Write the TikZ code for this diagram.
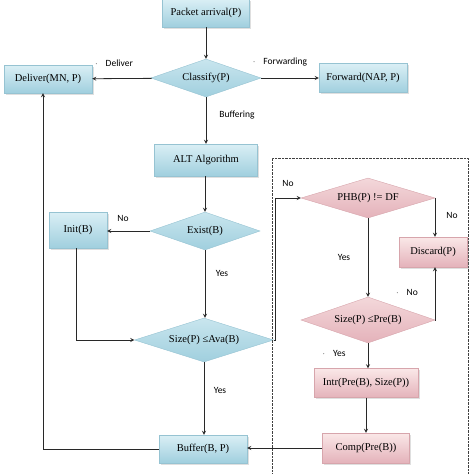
\documentclass[tikz,border=0pt]{standalone}
\usepackage{fontspec}
\setmainfont{Liberation Serif}
\newfontfamily\lblfont{Carlito}
\usepackage{tikz}
\usetikzlibrary{shapes.geometric, shadows, calc}
\usepackage{xcolor}
\definecolor{boxtop}{RGB}{218,239,245}
\definecolor{boxbot}{RGB}{160,207,222}
\definecolor{boxline}{RGB}{150,195,210}
\definecolor{pinktop}{RGB}{250,232,232}
\definecolor{pinkbot}{RGB}{228,178,186}
\definecolor{pinkline}{RGB}{215,165,172}
\definecolor{flowline}{RGB}{40,40,40}

\begin{document}
\begin{tikzpicture}[x=1pt,y=-1pt,>=stealth]
        \tikzstyle{bluebox}=[rectangle, draw=boxline, top color=boxtop, bottom color=boxbot, inner sep=0pt, font=\fontsize{10.5}{12}\selectfont, drop shadow={shadow xshift=1.5pt, shadow yshift=-1.5pt, opacity=.25}]
        \tikzstyle{bluedia}=[diamond, aspect=3, draw=boxline, top color=boxtop!70!boxbot, bottom color=boxbot, inner sep=0pt, font=\fontsize{10.5}{12}\selectfont]
        \tikzstyle{pinkbox}=[rectangle, draw=pinkline, top color=pinktop, bottom color=pinkbot, inner sep=0pt, font=\fontsize{10.5}{12}\selectfont, drop shadow={shadow xshift=1.5pt, shadow yshift=-1.5pt, opacity=.25}]
        \tikzstyle{pinkdia}=[diamond, aspect=3, draw=pinkline, top color=pinktop!70!pinkbot, bottom color=pinkbot, inner sep=0pt, font=\fontsize{10.5}{12}\selectfont]
        \tikzstyle{lbl}=[font=\lblfont\fontsize{9.5}{11}\selectfont, inner sep=0pt]
        \tikzstyle{flow}=[->, draw=flowline, line width=.8pt]

        \useasboundingbox (0,0) rectangle (474,474);

        % Main column
        \node[bluebox, minimum width=87pt, minimum height=28pt] (arrival) at (206,13) {Packet arrival(P)};
        \node[bluedia, minimum width=110pt, minimum height=38pt] (classify) at (206,78) {Classify(P)};
        \node[bluebox, minimum width=88pt, minimum height=28pt] (deliver) at (48,79) {Deliver(MN, P)};
        \node[bluebox, minimum width=88pt, minimum height=29pt] (forward) at (363,78) {Forward(NAP, P)};
        \node[bluebox, minimum width=103pt, minimum height=32pt] (alt) at (206,160) {ALT Algorithm};
        \node[bluedia, minimum width=110pt, minimum height=38pt] (exist) at (205,231) {Exist(B)};
        \node[bluebox, minimum width=58pt, minimum height=36pt] (init) at (78,230) {Init(B)};
        \node[bluedia, minimum width=139pt, minimum height=44pt] (sizeava) at (204,340) {Size(P) ≤Ava(B)};
        \node[bluebox, minimum width=88pt, minimum height=28pt] (buffer) at (203,449) {Buffer(B, P)};

        % Dotted frame
        \draw[densely dotted, gray!50!black] (272,480) -- (272,158) -- (468,158) -- (468,480);

        % Right column
        \node[pinkdia, minimum width=134pt, minimum height=40pt] (phb) at (368,198) {PHB(P) != DF};
        \node[pinkbox, minimum width=68pt, minimum height=30pt] (discard) at (433,252) {Discard(P)};
        \node[pinkdia, minimum width=134pt, minimum height=46pt] (sizepre) at (368,320) {Size(P) ≤Pre(B)};
        \node[pinkbox, minimum width=104pt, minimum height=29pt] (intr) at (366,383) {Intr(Pre(B), Size(P))};
        \node[pinkbox, minimum width=87pt, minimum height=30pt] (comp) at (366,448) {Comp(Pre(B))};

        % Connectors
        \draw[flow] (arrival) -- (classify);
        \draw[flow] (classify) -- (deliver);
        \draw[flow] (classify) -- (forward);
        \draw[flow] (classify.south) -- (classify.south |- alt.north);
        \draw[flow] (alt.south) -- (alt.south -| exist.north) -- (exist.north);
        \draw[flow] (exist.west) -- (exist.west -| init.east);
        \draw[flow] (exist.south) -- (exist.south |- sizeava.north);
        \draw[flow] ([xshift=-2pt]init.south) |- (sizeava.west);
        \draw[flow] (sizeava.south) -- (sizeava.south |- buffer.north);
        \draw[flow] (buffer.west) -| ([xshift=-5pt]deliver.south);
        \draw[flow] (sizeava.east) -- ++(2,0) |- (phb.west);
        \draw[flow] (phb.east) -| ([xshift=2pt]discard.north);
        \draw[flow] (phb.south) -- (sizepre.north);
        \draw[flow] (sizepre.east) -| ([xshift=2pt]discard.south);
        \draw[flow] (sizepre.south) -- (sizepre.south |- intr.north);
        \draw[flow] (intr.south) -- (intr.south |- comp.north);
        \draw[flow] (comp.west) -- (comp.west -| buffer.east);

        % Labels
        \node[lbl] (lbldeliver) at (114,63) {$\cdot$\hspace{8pt}Deliver};
        \node[lbl] (lblforward) at (280,62) {$\cdot$\hspace{8pt}Forwarding};
        \node[lbl] (lblbuffer) at (237,115) {Buffering};
        \node[lbl] (lblno1) at (123,218) {No};
        \node[lbl] (lblyes1) at (222,273) {Yes};
        \node[lbl] (lblyes2) at (220,390) {Yes};
        \node[lbl] (lblno2) at (288,183) {No};
        \node[lbl] (lblno3) at (452,215) {No};
        \node[lbl] (lblyes3) at (344,257) {Yes};
        \node[lbl] (lblno4) at (407,292) {$\cdot$\hspace{8pt}No};
        \node[lbl] (lblyes4) at (334,353) {$\cdot$\hspace{8pt}Yes};
    \end{tikzpicture}
\end{document}
